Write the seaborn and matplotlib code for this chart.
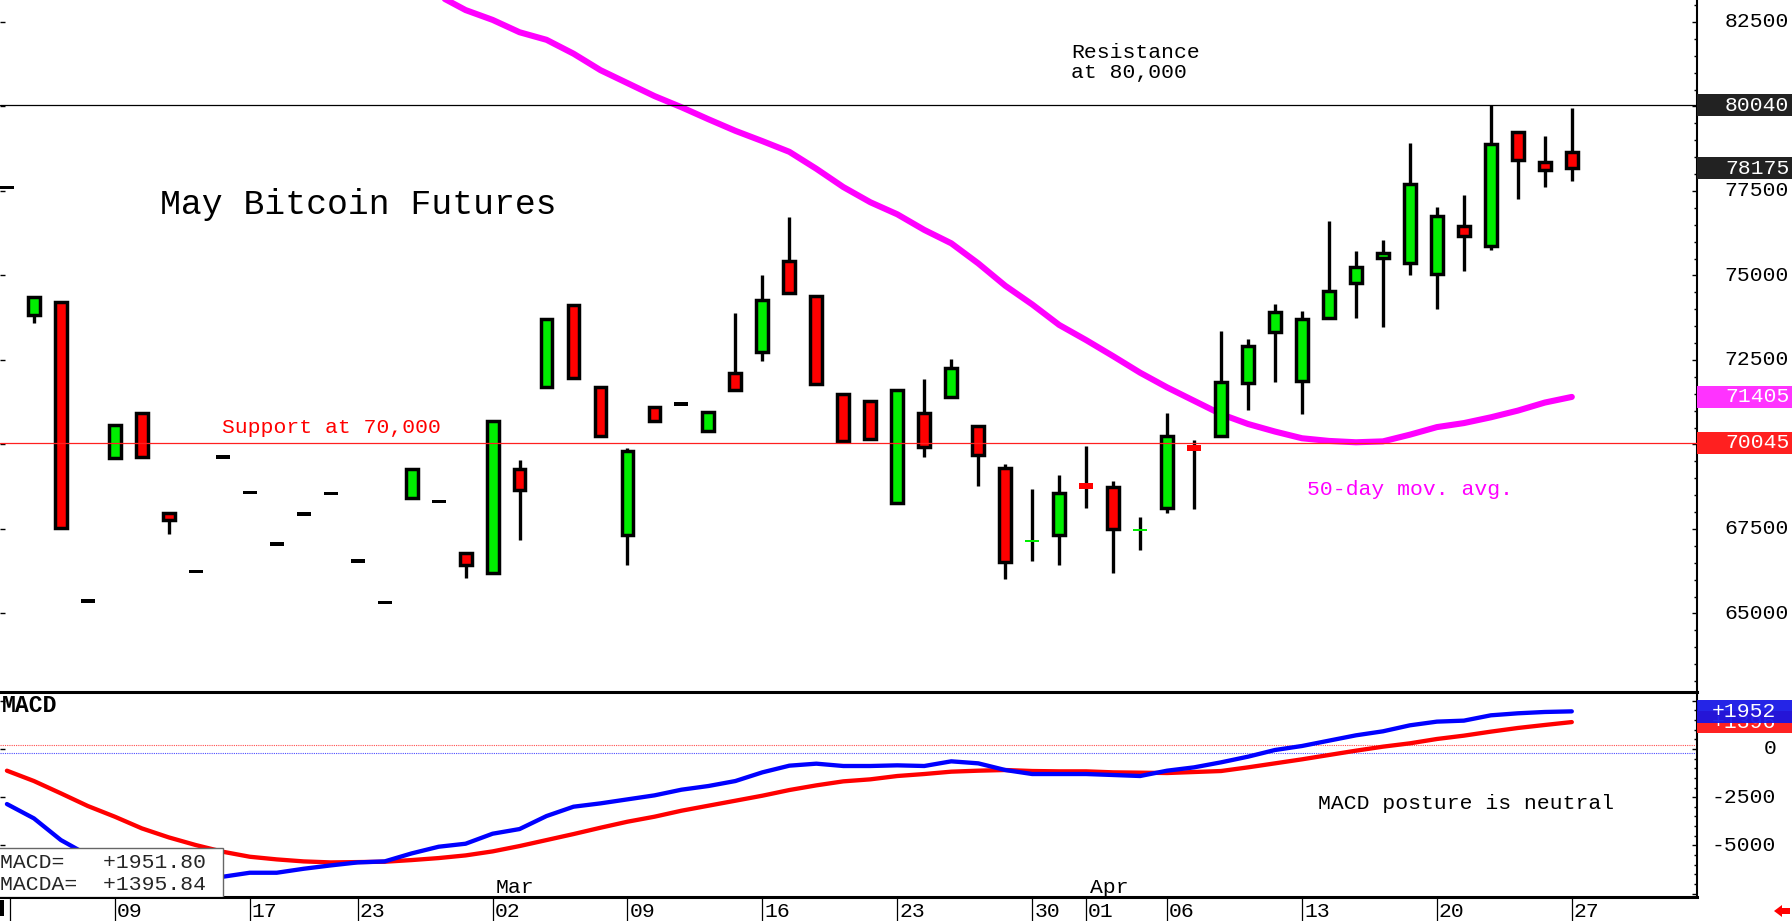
import matplotlib
matplotlib.use("Agg")
import matplotlib.pyplot as plt
import matplotlib.transforms as mtrans
from matplotlib.patches import Rectangle, Polygon
from matplotlib.ticker import MultipleLocator
import numpy as np
import seaborn as sns

sns.set_style("white", {"axes.edgecolor": "black", "xtick.color": "black", "ytick.color": "black"})
plt.rcParams['font.family'] = ['Liberation Mono', 'DejaVu Sans']

# trading sessions, first one is only just on the chart
sessions = list(range(-1, 58))

opens = [77600, 73825, 74221, 65364, 69601, 70934, 67978, 66248, 69628, 68585, 67054, 67938, 68558, 66552, 65311,
         68413, 68321, 66803, 66196, 69284, 71674, 74129, 71700, 67304, 71119, 71198, 70393, 72122, 72730, 75436,
         74393, 71515, 71291, 68268, 70934, 71396, 70552, 69311, 67146, 67304, 68850, 68743, 67476, 68123, 69970,
         70235, 71819, 73324, 71872, 73733, 74776, 75515, 75370, 75026, 76465, 75871, 79250, 78353, 78656]
closes = [77600, 74366, 67529, 65364, 70578, 69628, 67766, 66248, 69628, 68585, 67054, 67938, 68558, 66552, 65311,
          69284, 68321, 66433, 70697, 68651, 73720, 71964, 70248, 69812, 70697, 71198, 70961, 71608, 74274, 74459,
          71766, 70090, 70156, 71621, 69905, 72268, 69667, 66499, 67146, 68572, 68700, 67502, 67476, 70261, 69825,
          71858, 72914, 73918, 73720, 74538, 75251, 75673, 77706, 76756, 76162, 78894, 78406, 78115, 78168]
highs = [77600, 74366, 74221, 65364, 70578, 70934, 67978, 66248, 69628, 68585, 67054, 67938, 68558, 66552, 65311,
         69284, 68321, 66803, 70697, 69548, 73720, 74129, 71700, 69905, 71119, 71198, 70961, 73891, 75026, 76729,
         74393, 71515, 71291, 71621, 71938, 72532, 70552, 69416, 68677, 69086, 69944, 68915, 67859, 70934, 70129,
         73363, 73126, 74155, 73944, 76610, 75713, 76043, 78920, 77020, 77376, 80040, 79250, 79132, 79950]
lows = [77600, 73588, 67529, 65364, 69601, 69628, 67357, 66248, 69628, 68585, 67054, 67938, 68558, 66552, 65311,
        68413, 68321, 66037, 66196, 67172, 71674, 71964, 70248, 66446, 70697, 71198, 70393, 71608, 72479, 74459,
        71766, 70090, 70156, 68268, 69628, 71396, 68756, 66011, 66539, 66446, 68123, 66182, 66869, 67964, 68096,
        70235, 71027, 71858, 70895, 73733, 73746, 73469, 75013, 74010, 75132, 75752, 77257, 77614, 77785]
# sessions with no real body: small plain bar instead of an outlined candle
flat_colors = {37: "#00ee00", 41: "#00ee00", 39: "#ff0000", 43: "#ff0000"}

ma_sessions = list(range(15, 58))
ma50 = [83276, 82850, 82560, 82194, 81970, 81560, 81072, 80689, 80306, 79976, 79620, 79277, 78973, 78656, 78155,
        77614, 77165, 76808, 76346, 75950, 75356, 74696, 74142, 73535, 73086, 72611, 72122, 71687, 71291, 70895,
        70604, 70380, 70182, 70103, 70063, 70090, 70288, 70512, 70631, 70802, 71000, 71238, 71405]

macd = [-2855, -3598, -4723, -5501, -6107, -6488, -6712, -6730, -6626, -6418, -6418, -6211, -6038, -5882, -5830,
        -5415, -5069, -4913, -4394, -4152, -3477, -2993, -2820, -2612, -2405, -2111, -1920, -1661, -1211, -865,
        -761, -882, -882, -848, -882, -640, -744, -1090, -1298, -1298, -1298, -1349, -1401, -1125, -952,
        -692, -398, -52, 156, 433, 709, 917, 1228, 1419, 1471, 1747, 1851, 1920, 1952]
macda = [-1125, -1661, -2301, -2958, -3512, -4117, -4585, -4982, -5328, -5588, -5726, -5830, -5882, -5865, -5847,
         -5761, -5657, -5519, -5311, -5034, -4723, -4412, -4083, -3771, -3512, -3201, -2941, -2682, -2422, -2128,
         -1886, -1678, -1574, -1401, -1298, -1176, -1125, -1090, -1142, -1159, -1159, -1211, -1228, -1246, -1194,
         -1142, -952, -744, -536, -311, -87, 121, 294, 519, 692, 900, 1090, 1246, 1396]

date_ticks = [-0.87, 3, 8, 12, 17, 22, 27, 32, 37, 39, 42, 47, 52, 57]
date_labels = ["", "09", "17", "23", "02", "09", "16", "23", "30", "01", "06", "13", "20", "27"]
price_ticks = [65000, 67500, 70000, 72500, 75000, 77500, 80000, 82500]
macd_ticks = [-7500, -5000, -2500, 0, 2500]
macd_tick_labels = ["", "-5000", "-2500", "0", ""]

W, H = 1792, 921
AX_RIGHT, SPLIT, AX_BOTTOM = 1697, 692, 897
GREEN, RED, MAGENTA, BLUE = "#00ee00", "#ff0000", "#ff00ff", "#0000ff"


def price_tag(ax, value, text, color, height, alpha=1.0, text_x=1.0165, ha="left", z=6):
    w = (W - AX_RIGHT) / AX_RIGHT
    ax.add_patch(Rectangle((1, value - height / 2), w, height, transform=ax.get_yaxis_transform(),
                           facecolor=color, edgecolor="none", alpha=alpha, clip_on=False, zorder=z))
    ax.text(text_x, value, text, transform=ax.get_yaxis_transform(), color="white", fontsize=15.4,
            ha=ha, va="center", clip_on=False, zorder=z + 0.5)


def draw_candles(ax):
    x = np.array(sessions)
    ax.vlines(x, lows, highs, color="black", linewidth=2.4, zorder=2)
    inset = 10
    for i, o, c in zip(sessions, opens, closes):
        if i in flat_colors:
            h = 60 if flat_colors[i] == GREEN else 178
            ax.bar(i, h, bottom=(o + c) / 2 - h / 2, width=0.52, color=flat_colors[i], linewidth=0, zorder=3)
        elif o == c:
            ax.bar(i, 95, bottom=o - 47, width=0.52, color="black", linewidth=0, zorder=3)
        else:
            top, bot = max(o, c) - inset, min(o, c) + inset
            ax.bar(i, top - bot, bottom=bot, width=0.44, color=GREEN if c > o else RED,
                   edgecolor="black", linewidth=2.5, zorder=3)


fig = plt.figure(figsize=(W / 100, H / 100), dpi=100)
ax = fig.add_axes([0, 1 - SPLIT / H, AX_RIGHT / W, SPLIT / H])
ax2 = fig.add_axes([0, 1 - AX_BOTTOM / H, AX_RIGHT / W, (AX_BOTTOM - SPLIT) / H])
xlim = (-1.2565, 61.64)

# price panel
sns.lineplot(x=ma_sessions, y=ma50, color=MAGENTA, linewidth=4.4, ax=ax, zorder=1, solid_capstyle="round")
draw_candles(ax)
ax.axhline(80040, color="black", linewidth=0.9, zorder=4)
ax.axhline(70045, color="#ff2020", linewidth=0.9, zorder=4)
ax.set_xlim(*xlim)
ax.set_ylim(62675, 83148)
ax.set_xticks([])
ax.set_yticks(price_ticks)
ax.set_yticklabels([str(p) for p in price_ticks])
ax.yaxis.set_minor_locator(MultipleLocator(500))

ax.text(4.67, 76815, "May Bitcoin Futures", fontsize=25, color="black")
ax.text(6.97, 70350, "Support at 70,000", fontsize=15.4, color=RED)
ax.text(38.44, 81420, "Resistance", fontsize=15.4, color="black")
ax.text(38.44, 80826, "at 80,000", fontsize=15.4, color="black")
ax.text(47.2, 68500, "50-day mov. avg.", fontsize=15.4, color=MAGENTA)

price_tag(ax, 80040, "80040", "#222222", 666)
price_tag(ax, 78175, "78175", "#222222", 666)
price_tag(ax, 71405, "71405", "#ff33ff", 666)
price_tag(ax, 70045, "70045", "#ff2020", 666)

# MACD panel
ax2.axhline(190, color=RED, linewidth=0.8, linestyle=(0, (1, 1)), alpha=0.7, zorder=1)
ax2.axhline(-225, color=BLUE, linewidth=0.8, linestyle=(0, (1, 1)), alpha=0.7, zorder=1)
sns.lineplot(x=sessions, y=macda, color=RED, linewidth=3.1, ax=ax2, zorder=2)
sns.lineplot(x=sessions, y=macd, color=BLUE, linewidth=3.1, ax=ax2, zorder=3)
ax2.set_xlim(*xlim)
ax2.set_ylim(-7676, 2956)
ax2.set_yticks(macd_ticks)
ax2.set_yticklabels(macd_tick_labels)
ax2.yaxis.set_minor_locator(MultipleLocator(500))
ax2.set_xticks(date_ticks)
ax2.set_xticklabels(date_labels, ha="left")

ax2.text(2 / AX_RIGHT, (AX_BOTTOM - 712) / 205, "MACD", transform=ax2.transAxes, fontsize=16.7,
         fontweight="bold", color="black")
ax2.text(47.6, -3110, "MACD posture is neutral", fontsize=15.4, color="black")
ax2.text(17.1, -7450, "Mar", fontsize=15.4, color="black", clip_on=False)
ax2.text(39.15, -7450, "Apr", fontsize=15.4, color="black", clip_on=False)

# reading box in the lower left corner
ax2.add_patch(Rectangle((-0.002, 0), 223 / AX_RIGHT + 0.002, 49 / 205, transform=ax2.transAxes,
                        facecolor="white", edgecolor="#666666", linewidth=1.0, zorder=5))
ax2.text(0, (AX_BOTTOM - 868) / 205, "MACD=   +1951.80", transform=ax2.transAxes, fontsize=15.4, zorder=6)
ax2.text(0, (AX_BOTTOM - 890) / 205, "MACDA=  +1395.84", transform=ax2.transAxes, fontsize=15.4, zorder=6)

price_tag(ax2, 1396, "+1396", "#ff2222", 1167, text_x=1.0465, ha="right", z=6)
price_tag(ax2, 1952, "+1952", "#1414e6", 1167, alpha=0.93, text_x=1.0465, ha="right", z=7)

# shared axis styling
for a in (ax, ax2):
    sns.despine(ax=a, top=True, left=True, right=False, bottom=False)
    a.yaxis.tick_right()
    a.tick_params(axis="y", which="major", direction="in", length=3.8, width=1.0, left=True, labelleft=False)
    a.tick_params(axis="y", which="minor", direction="in", length=2.0, width=1.0, left=False)
    a.spines["right"].set_linewidth(1.5)
    a.spines["bottom"].set_linewidth(2.2)
    for tick in a.yaxis.get_major_ticks():
        tick.tick1line.set_markersize(1.5)
    a.patch.set_alpha(0)

ax.tick_params(axis="y", which="major", labelsize=15.4, pad=20)
ax2.tick_params(axis="y", which="major", labelsize=15.4, pad=57)
plt.setp(ax2.get_yticklabels(), ha="right")
up = mtrans.ScaledTranslation(0, 2 / 100, fig.dpi_scale_trans)
for a in (ax, ax2):
    for label in a.get_yticklabels():
        label.set_transform(label.get_transform() + up)

ax2.tick_params(axis="x", bottom=True, direction="out", length=17.3, width=0.9, labelsize=15.4, pad=-13.9)
offset = mtrans.ScaledTranslation(2 / 100, 0, fig.dpi_scale_trans)
for label in ax2.get_xticklabels():
    label.set_transform(label.get_transform() + offset)

# clipped glyph at the very start of the date scale, and the scroll arrow
fig.add_artist(Rectangle((0, 1 - 916 / H), 4 / W, 16 / H, transform=fig.transFigure, facecolor="black", edgecolor="none"))
arrow_px = [(1774, 911), (1782, 905), (1782, 908), (1790, 908), (1790, 914), (1782, 914), (1782, 917)]
fig.add_artist(Polygon([(px / W, 1 - py / H) for px, py in arrow_px], closed=True, transform=fig.transFigure,
                       facecolor=RED, edgecolor="none"))

fig.savefig("out.png", dpi=100)
